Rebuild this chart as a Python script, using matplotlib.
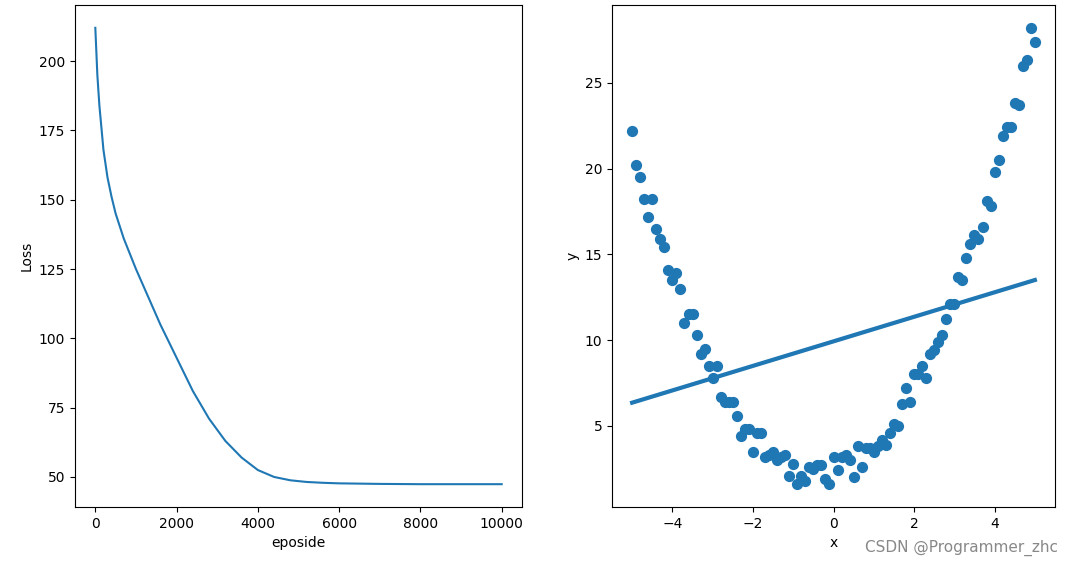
import matplotlib.pyplot as plt
import numpy as np

# loss curve
epochs = [0, 50, 100, 200, 300, 400, 500, 700, 1000, 1300, 1600, 2000, 2400, 2800, 3200,
          3600, 4000, 4400, 4800, 5200, 5600, 6000, 7000, 8000, 9000, 10000]
loss = [212, 195, 184, 168, 158, 151, 145, 136, 125, 115, 105, 93, 81, 71, 63,
        57, 52.5, 50, 48.8, 48.2, 47.9, 47.7, 47.5, 47.4, 47.4, 47.4]

# scatter points
y_pts = [22.2, 20.2, 19.5, 18.2, 17.2, 18.2, 16.5, 15.9, 15.4, 14.1,
         13.5, 13.9, 13.0, 11.0, 11.5, 11.5, 10.3, 9.2, 9.5, 8.5,
         7.8, 8.5, 6.7, 6.4, 6.4, 6.4, 5.6, 4.4, 4.8, 4.8,
         3.5, 4.6, 4.6, 3.2, 3.3, 3.5, 3.0, 3.2, 3.3, 2.1,
         2.8, 1.6, 2.1, 1.8, 2.6, 2.5, 2.7, 2.7, 1.9, 1.6,
         3.2, 2.4, 3.2, 3.3, 3.0, 2.0, 3.8, 2.6, 3.7, 3.7,
         3.5, 3.8, 4.2, 3.9, 4.6, 5.1, 5.0, 6.3, 7.2, 6.4,
         8.0, 8.0, 8.5, 7.8, 9.2, 9.4, 9.9, 10.3, 11.2, 12.1,
         12.1, 13.7, 13.5, 14.8, 15.6, 16.1, 15.9, 16.6, 18.1, 17.8,
         19.8, 20.5, 21.9, 22.4, 22.4, 23.8, 23.7, 26.0, 26.3, 28.2, 27.4]
x_pts = np.linspace(-5, 5, len(y_pts))

# fitted line endpoints
fit_x = [-5, 5]
fit_y = [6.35, 13.5]

fig = plt.figure(figsize=(10.74, 5.67), dpi=100)
ax1 = fig.add_axes([75/1074, 60/567, 447/1074, 502/567])
ax2 = fig.add_axes([612/1074, 60/567, 443/1074, 502/567])

ax1.plot(epochs, loss, color='#1f77b4')
ax1.set_xlabel('eposide')
ax1.set_ylabel('Loss')

ax2.scatter(x_pts, y_pts, color='#1f77b4', s=50)
ax2.plot(fit_x, fit_y, color='#1f77b4', linewidth=3)
ax2.set_xlabel('x')
ax2.set_ylabel('y')

fig.text(0.985, 0.02, 'CSDN @Programmer_zhc', ha='right', va='bottom',
         fontsize=11, color='#888888')

plt.savefig('out.png', dpi=100, facecolor='white')
